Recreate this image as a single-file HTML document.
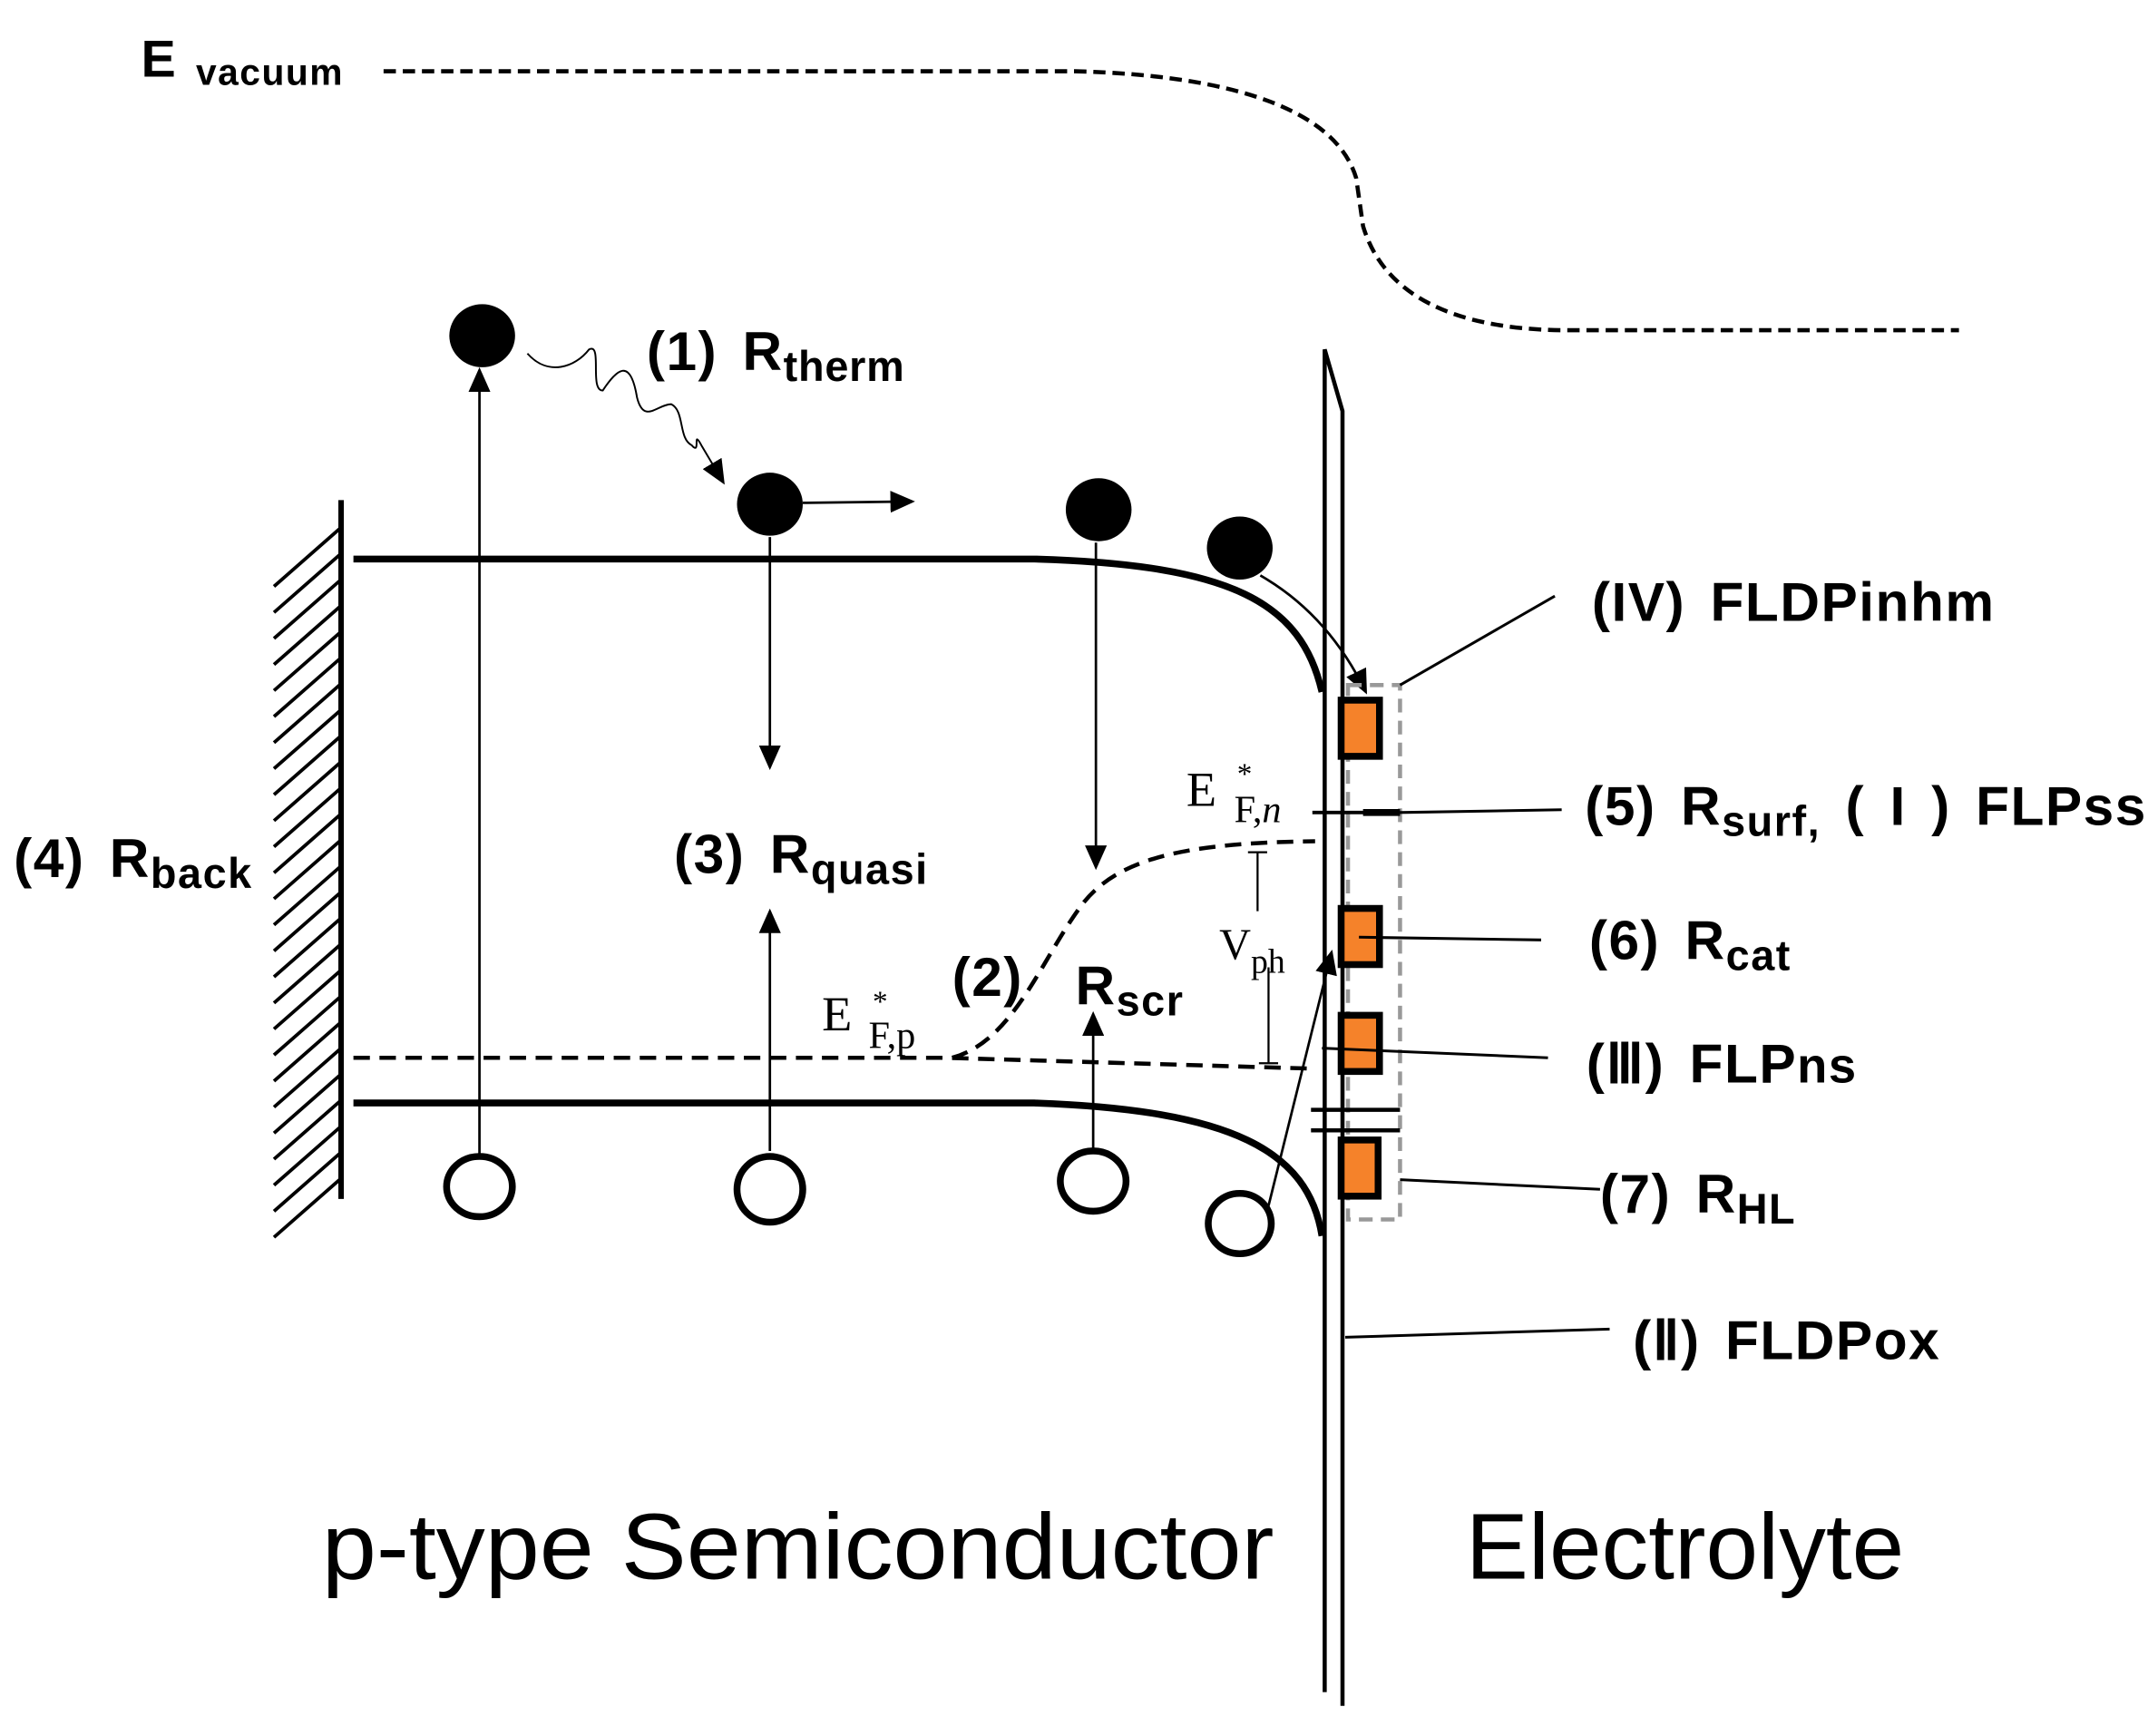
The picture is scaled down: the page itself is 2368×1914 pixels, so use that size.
<!DOCTYPE html>
<html><head><meta charset="utf-8"><style>
html,body{margin:0;padding:0;background:#fff;}
svg{display:block;}
.b{font-family:"Liberation Sans",sans-serif;font-weight:bold;fill:#000;letter-spacing:1px;word-spacing:6px;}
.s{font-family:"Liberation Serif",serif;fill:#000;}
</style></head><body>
<svg width="2368" height="1914" viewBox="0 0 1568 1267" preserveAspectRatio="none" xmlns="http://www.w3.org/2000/svg">
<defs>
<marker id="ah2" markerWidth="18" markerHeight="16" refX="16" refY="8" orient="auto" markerUnits="userSpaceOnUse"><path d="M0,0 L18,8 L0,16 z" fill="#000"/></marker>
</defs>
<text class="b" x="103" y="56" font-size="38">E</text>
<text class="b" x="143" y="62" font-size="27">vacuum</text>
<path d="M280,52 L785,52 C900,55 975,80 990,130 L995,165 C1010,215 1060,240 1140,241 L1430,241" fill="none" stroke="#000" stroke-width="3" stroke-dasharray="9,5"/>
<line x1="249" y1="365" x2="249" y2="875" stroke="#000" stroke-width="4"/>
<g stroke="#000" stroke-width="2.5">
<line x1="200" y1="428" x2="249" y2="385"/><line x1="200" y1="447" x2="249" y2="404"/><line x1="200" y1="466" x2="249" y2="423"/><line x1="200" y1="485" x2="249" y2="442"/><line x1="200" y1="504" x2="249" y2="461"/><line x1="200" y1="523" x2="249" y2="480"/><line x1="200" y1="542" x2="249" y2="499"/><line x1="200" y1="561" x2="249" y2="518"/><line x1="200" y1="580" x2="249" y2="537"/><line x1="200" y1="599" x2="249" y2="556"/><line x1="200" y1="618" x2="249" y2="575"/><line x1="200" y1="637" x2="249" y2="594"/><line x1="200" y1="656" x2="249" y2="613"/><line x1="200" y1="675" x2="249" y2="632"/><line x1="200" y1="694" x2="249" y2="651"/><line x1="200" y1="713" x2="249" y2="670"/><line x1="200" y1="732" x2="249" y2="689"/><line x1="200" y1="751" x2="249" y2="708"/><line x1="200" y1="770" x2="249" y2="727"/><line x1="200" y1="789" x2="249" y2="746"/><line x1="200" y1="808" x2="249" y2="765"/><line x1="200" y1="827" x2="249" y2="784"/><line x1="200" y1="846" x2="249" y2="803"/><line x1="200" y1="865" x2="249" y2="822"/><line x1="200" y1="884" x2="249" y2="841"/><line x1="200" y1="903" x2="249" y2="860"/>
</g>
<path d="M258,408 L755,408 C900,412 950,440 965,505" fill="none" stroke="#000" stroke-width="5"/>
<path d="M258,805 L755,805 C900,810 955,840 965,902" fill="none" stroke="#000" stroke-width="5"/>
<path d="M258,772 L690,772 L960,780" fill="none" stroke="#000" stroke-width="3" stroke-dasharray="12,7"/>
<path d="M695,772 C740,760 760,700 790,660 C815,628 860,615 960,614" fill="none" stroke="#000" stroke-width="3" stroke-dasharray="12,7"/>
<path d="M967,1235 L967,255 L980,300 L980,1245" fill="none" stroke="#000" stroke-width="3"/>
<g fill="#000">
<ellipse cx="352" cy="245" rx="24" ry="23"/><ellipse cx="562" cy="368" rx="24" ry="23"/><ellipse cx="802" cy="372" rx="24" ry="23"/><ellipse cx="905" cy="400" rx="24" ry="23"/>
</g>
<g fill="#fff" stroke="#000" stroke-width="5">
<ellipse cx="350" cy="866" rx="24" ry="22"/><ellipse cx="562" cy="868" rx="24" ry="24"/><ellipse cx="798" cy="862" rx="24" ry="22"/><ellipse cx="905" cy="893" rx="23" ry="22"/>
</g>
<g stroke="#000" stroke-width="1.8" fill="none">
<line x1="350" y1="842" x2="350" y2="270" marker-end="url(#ah2)"/>
<line x1="562" y1="392" x2="562" y2="560" marker-end="url(#ah2)"/>
<line x1="562" y1="840" x2="562" y2="665" marker-end="url(#ah2)"/>
<line x1="800" y1="396" x2="800" y2="633" marker-end="url(#ah2)"/>
<line x1="798" y1="838" x2="798" y2="740" marker-end="url(#ah2)"/>
<line x1="586" y1="367" x2="666" y2="366" marker-end="url(#ah2)"/>
<line x1="926" y1="880" x2="972" y2="695" marker-end="url(#ah2)"/>
<path d="M920,420 C955,440 980,470 997,505" marker-end="url(#ah2)"/>
<path d="M385,258 C400,275 420,268 430,255 C440,250 430,285 440,285 C450,270 460,260 465,290 C470,310 480,295 490,295 C500,300 495,320 505,325 C512,333 505,312 512,325 L528,352" stroke-width="1.3" marker-end="url(#ah2)"/>
</g>
<rect x="984" y="500" width="38" height="390" fill="none" stroke="#999" stroke-width="3" stroke-dasharray="10,6"/>
<g fill="#f5822a" stroke="#000" stroke-width="5">
<rect x="979" y="511" width="28" height="41"/><rect x="979" y="663" width="28" height="41"/><rect x="979" y="741" width="28" height="41"/><rect x="979" y="832" width="27" height="41"/>
</g>
<g stroke="#000">
<line x1="957" y1="810" x2="1022" y2="810" stroke-width="3"/>
<line x1="957" y1="825" x2="1022" y2="825" stroke-width="3"/>
<line x1="958" y1="593" x2="1022" y2="593" stroke-width="2.5"/>
<line x1="995" y1="593" x2="1022" y2="593" stroke-width="5"/>
<line x1="1022" y1="500" x2="1135" y2="435" stroke-width="2"/>
<line x1="1022" y1="593" x2="1140" y2="591" stroke-width="2"/>
<line x1="992" y1="684" x2="1125" y2="686" stroke-width="2"/>
<line x1="965" y1="765" x2="1130" y2="772" stroke-width="2"/>
<line x1="1022" y1="861" x2="1168" y2="868" stroke-width="2"/>
<line x1="982" y1="976" x2="1175" y2="970" stroke-width="2"/>
<line x1="918" y1="622" x2="918" y2="665" stroke-width="1.5"/>
<line x1="911" y1="622" x2="925" y2="622" stroke-width="1.5"/>
<line x1="926" y1="706" x2="926" y2="776" stroke-width="1.5"/>
<line x1="919" y1="776" x2="933" y2="776" stroke-width="1.5"/>
</g>
<text class="b" x="472" y="270" font-size="40">(1) R<tspan font-size="31" dy="8" letter-spacing="0.5">therm</tspan></text>
<text class="b" x="492" y="637" font-size="40">(3) R<tspan font-size="31" dy="8">quasi</tspan></text>
<text class="b" x="10" y="640" font-size="40">(4) R<tspan font-size="31" dy="8">back</tspan></text>
<text class="b" x="695" y="727" font-size="40">(2)</text>
<text class="b" x="785" y="733" font-size="40">R<tspan font-size="31" dy="8">scr</tspan></text>
<text class="s" x="600" y="752" font-size="36">E</text>
<text class="s" x="637" y="738" font-size="22">*</text>
<text class="s" x="634" y="765" font-size="28">F,p</text>
<text class="s" x="866" y="588" font-size="36">E</text>
<text class="s" x="903" y="572" font-size="22">*</text>
<text class="s" x="901" y="600" font-size="28">F,<tspan font-style="italic">n</tspan></text>
<text class="s" x="890" y="700" font-size="32">V<tspan font-size="25" dy="10">ph</tspan></text>
<text class="b" x="1162" y="453" font-size="40">(IV) FLDPinhm</text>
<text class="b" x="1157" y="602" font-size="40">(5) R<tspan font-size="31" dy="8">surf,</tspan><tspan dy="-8"> ( I ) FLPss</tspan></text>
<text class="b" x="1160" y="700" font-size="40">(6) R<tspan font-size="31" dy="8">cat</tspan></text>
<text class="b" x="1158" y="790" font-size="40">(Ⅲ) FLP<tspan font-size="36">ns</tspan></text>
<text class="b" x="1168" y="885" font-size="40">(7) R<tspan font-size="31" dy="8">HL</tspan></text>
<text class="b" x="1192" y="992" font-size="40">(Ⅱ) FLDPox</text>
<text x="235" y="1152" font-family="Liberation Sans, sans-serif" font-size="68" textLength="695" lengthAdjust="spacingAndGlyphs">p-type Semiconductor</text>
<text x="1070" y="1152" font-family="Liberation Sans, sans-serif" font-size="68" textLength="320" lengthAdjust="spacingAndGlyphs">Electrolyte</text>
</svg>
</body></html>
